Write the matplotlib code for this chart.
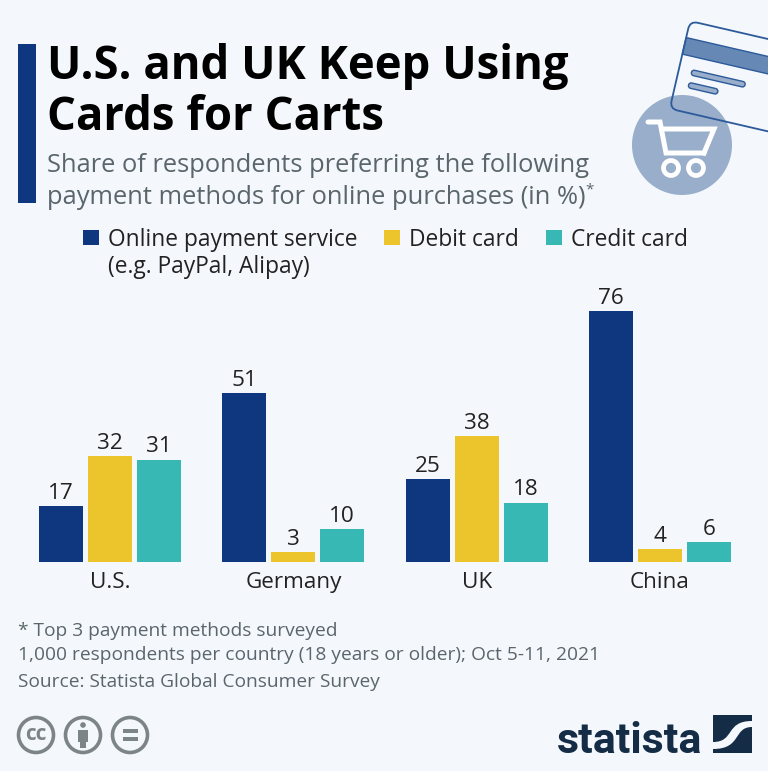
import matplotlib
matplotlib.use("Agg")
import matplotlib.pyplot as plt
from matplotlib.patches import Rectangle, Circle, FancyBboxPatch, PathPatch
from matplotlib.path import Path
from matplotlib.transforms import Affine2D
import numpy as np

countries = ["U.S.", "Germany", "UK", "China"]
online = [17, 51, 25, 76]
debit = [32, 3, 38, 4]
credit = [31, 10, 18, 6]
series_names = ["Online payment service\n(e.g. PayPal, Alipay)", "Debit card", "Credit card"]
NAVY = "#0f377f"
YEL = "#ecc42c"
TEAL = "#38b8b4"
BG = "#f4f8fc"
GREY = "#5a656c"
INK = "#222222"
W, H = 768, 771
plt.rcParams['font.family'] = ['Open Sans', 'DejaVu Sans']

fig = plt.figure(figsize=(W/100, H/100), dpi=100, facecolor=BG)

# overlay in pixel coordinates
ov = fig.add_axes([0, 0, 1, 1], zorder=1)
ov.set_xlim(0, W); ov.set_ylim(H, 0); ov.axis("off")

# chart
ax = fig.add_axes([0, (H-562)/H, 1, 272/H], zorder=2)
ax.patch.set_alpha(0)
pitch = 183.33
ax.set_xlim(-110/pitch, (W-110)/pitch)
ax.set_ylim(0, 272/3.305)
x = np.arange(len(countries))
bw, off = 44/pitch, 49/pitch
for vals, c, d in [(online, NAVY, -off), (debit, YEL, 0), (credit, TEAL, off)]:
    ax.bar(x+d, vals, bw, color=c)
    for xx, v in zip(x+d, vals):
        ax.annotate(str(v), (xx, v), xytext=(0, 1.5), textcoords="offset points",
                    ha="center", va="bottom", fontsize=16.2, color=INK)
ax.set_xticks(x, countries, fontsize=16.2, color=INK)
ax.tick_params(axis="x", length=0, pad=7)
ax.set_yticks([])
for s in ax.spines.values():
    s.set_visible(False)

# header
ov.add_patch(Rectangle((18, 44), 18, 159, color=NAVY, lw=0))
ov.text(47, 66, "U.S. and UK Keep Using", fontsize=32.8, fontweight="bold", color="#000000", va="center")
ov.text(47, 117, "Cards for Carts", fontsize=32.8, fontweight="bold", color="#000000", va="center")
ov.text(47, 165, "Share of respondents preferring the following", fontsize=18.4, color=GREY, va="center")
ov.text(47, 197, "payment methods for online purchases (in %)", fontsize=18.4, color=GREY, va="center")
ov.text(585, 190, "*", fontsize=11, color=GREY, va="center")

# legend
for (lx, c, tx, name) in [(83, NAVY, 108, series_names[0]), (384, YEL, 409, series_names[1]), (546, TEAL, 571, series_names[2])]:
    ov.add_patch(Rectangle((lx, 230), 16, 15, color=c, lw=0))
    ov.text(tx, 228, name, fontsize=16.4, color=INK, va="top", linespacing=1.15)

# footer
for y, t in [(631, "* Top 3 payment methods surveyed"),
             (655, "1,000 respondents per country (18 years or older); Oct 5-11, 2021"),
             (682, "Source: Statista Global Consumer Survey")]:
    ov.text(18, y, t, fontsize=13.8, color=GREY, va="center")

# cart / credit-card icon
ICON = "#98aeca"
LINE = "#2c5a9a"
rot = Affine2D().rotate_deg_around(690, 21, 13) + ov.transData
ov.add_patch(FancyBboxPatch((690, 21), 130, 90, boxstyle="round,pad=0,rounding_size=8",
                            fc=BG, ec="none", transform=rot))
ov.add_patch(Circle((682, 145), 50, color=ICON, lw=0))
ov.add_patch(Rectangle((690, 38), 130, 17, fc="#6688b5", ec=LINE, lw=1.0, transform=rot))
ov.add_patch(FancyBboxPatch((703, 68), 55, 5.5, boxstyle="round,pad=0,rounding_size=2.7",
                            fc=ICON, ec=LINE, lw=1.0, transform=rot))
ov.add_patch(FancyBboxPatch((703, 81), 30, 5.5, boxstyle="round,pad=0,rounding_size=2.7",
                            fc=ICON, ec=LINE, lw=1.0, transform=rot))
ov.add_patch(FancyBboxPatch((690, 21), 130, 90, boxstyle="round,pad=0,rounding_size=8",
                            fc="none", ec=LINE, lw=1.3, transform=rot))
ov.plot([648, 660, 666, 704], [122, 122, 153, 153], color="white", lw=3.6,
        solid_capstyle="round", solid_joinstyle="miter")
ov.plot([662, 714, 704], [129, 129, 153], color="white", lw=3.6, solid_joinstyle="miter")
for cx in (671, 696):
    ov.add_patch(Circle((cx, 168), 7.5, fc="none", ec="white", lw=3.4))

# CC icons
CCG = "#7d8487"
for cx in (36, 83, 130):
    ov.add_patch(Circle((cx, 735), 17.5, fc="none", ec=CCG, lw=2.6))
ov.text(36, 734, "cc", fontsize=15, fontweight="bold", color=CCG, ha="center", va="center")
ov.add_patch(Circle((83, 725), 2.8, color=CCG, lw=0))
ov.add_patch(Rectangle((78, 730), 10, 12, color=CCG, lw=0))
ov.add_patch(Rectangle((80, 742), 6, 6, color=CCG, lw=0))
ov.add_patch(Rectangle((123, 729), 15, 4, color=CCG, lw=0))
ov.add_patch(Rectangle((123, 737), 15, 4, color=CCG, lw=0))

# Statista logo
DK = "#142c46"
ov.text(557, 753, "statista", fontsize=31, fontweight="bold", color=DK, va="baseline", family="Roboto")
ov.add_patch(Rectangle((713, 715), 39, 38, color=DK, lw=0))
wave = Path([(713, 742), (735, 742), (725, 721), (752, 721), (752, 727), (733, 727), (742, 749), (713, 749), (713, 742)],
            [Path.MOVETO, Path.CURVE4, Path.CURVE4, Path.CURVE4, Path.LINETO, Path.CURVE4, Path.CURVE4, Path.CURVE4, Path.CLOSEPOLY])
ov.add_patch(PathPatch(wave, fc=BG, ec="none"))

fig.savefig("out.png", dpi=100, facecolor=BG)
